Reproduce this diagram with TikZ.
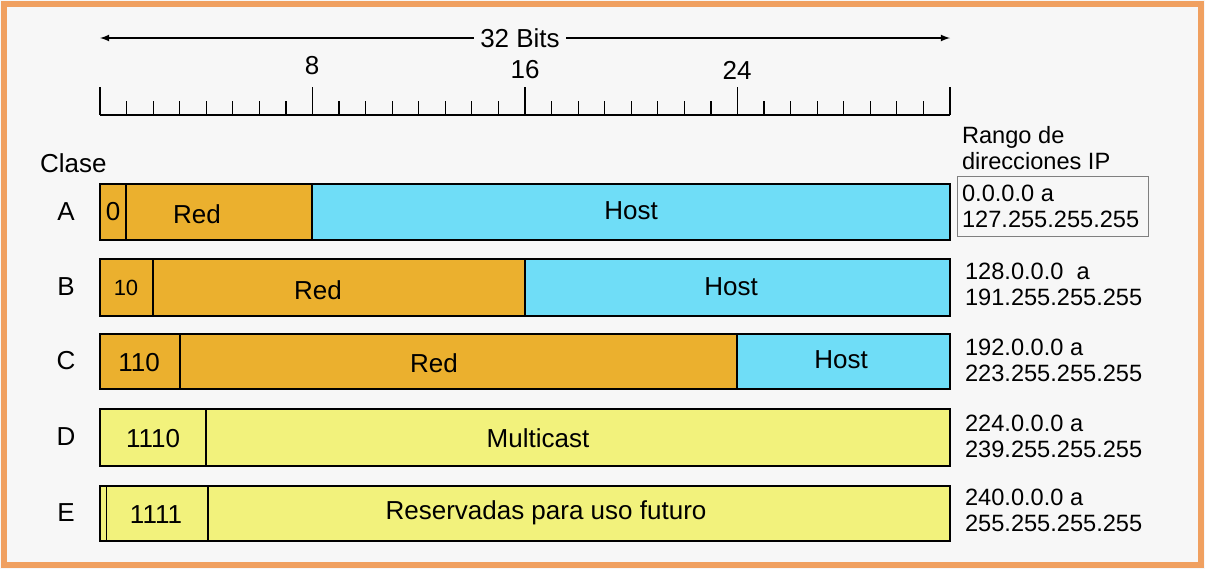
\documentclass[tikz,border=0pt]{standalone}
\usepackage{fontspec}
\setmainfont{Liberation Sans}
\begin{document}
\begin{tikzpicture}[x=0.5pt,y=-0.5pt,
  seg/.style={draw=black,line width=0.8pt},
  lbl/.style={font=\fontsize{13}{14}\selectfont},
  rng/.style={font=\fontsize{11.8}{13}\selectfont,align=left,anchor=west}]
\definecolor{bord}{HTML}{F0A060}
\definecolor{redc}{HTML}{EBB02E}
\definecolor{hostc}{HTML}{6FDDF7}
\definecolor{mc}{HTML}{F2F27C}
\useasboundingbox (0,0) rectangle (1205,569);
\fill[white!97!black] (0,0) rectangle (1205,569);
\draw[bord,line width=3pt] (4,4) rectangle (1201,565);
% ruler
\draw[line width=0.6pt] (100,115) -- (950,115);
\foreach \i in {0,...,32}{
  \pgfmathsetmacro{\xx}{100+\i*26.5625}
  \pgfmathtruncatemacro{\m}{mod(\i,8)}
  \ifnum\m=0 \draw[line width=0.8pt] (\xx,87) -- (\xx,115);
  \else \draw[line width=0.6pt] (\xx,101) -- (\xx,115); \fi}
\node[lbl] (b8) at (312,66) {8};
\node[lbl] (b16) at (525,70) {16};
\node[lbl] (b24) at (737,70) {24};
\node[lbl,fill=white!97!black,inner sep=3pt] (bits) at (520,38) {32 Bits};
\draw[-latex,line width=0.6pt] (bits.west) -- (100,38);
\draw[-latex,line width=0.6pt] (bits.east) -- (950,38);
\node[lbl,anchor=west] (clase) at (33,163) {Clase};
\node[rng] (rh) at (955,148) {Rango de\\direcciones IP};
% rows
\foreach \y/\c in {212/A,287/B,361/C,437/D,513/E}{\node[lbl] at (66,\y) {\c};}
% A
\fill[redc] (100,184) rectangle (312,240);
\fill[hostc] (312,184) rectangle (950,240);
\draw[seg] (100,184) rectangle (950,240) (126,184)--(126,240) (312,184)--(312,240);
\node[lbl] at (113,212) {0};
\node[lbl] at (197,214) {Red};
\node[lbl] at (631,211) {Host};
% B
\fill[redc] (100,259) rectangle (525,316);
\fill[hostc] (525,259) rectangle (950,316);
\draw[seg] (100,259) rectangle (950,316) (153,259)--(153,316) (525,259)--(525,316);
\node[lbl,font=\fontsize{11}{12}\selectfont] at (126,288) {10};
\node[lbl] at (318,290) {Red};
\node[lbl] at (731,287) {Host};
% C
\fill[redc] (100,334) rectangle (737,389);
\fill[hostc] (737,334) rectangle (950,389);
\draw[seg] (100,334) rectangle (950,389) (180,334)--(180,389) (737,334)--(737,389);
\node[lbl] at (139,363) {110};
\node[lbl] at (434,363) {Red};
\node[lbl] at (841,360) {Host};
% D
\fill[mc] (100,409) rectangle (950,466);
\draw[seg] (100,409) rectangle (950,466) (206,409)--(206,466);
\node[lbl] at (153,439) {1110};
\node[lbl] at (538,438) {Multicast};
% E
\fill[mc] (100,486) rectangle (950,541);
\draw[seg] (100,486) rectangle (950,541) (208,486)--(208,541);
\draw[line width=0.5pt] (106,486)--(106,541);
\node[lbl] at (156,515) {1111};
\node[lbl] at (546,513) {Reservadas para uso futuro};
% ranges
\draw[gray,line width=0.5pt] (957,176) rectangle (1148,236);
\node[rng] (ra) at (955,206) {0.0.0.0 a\\127.255.255.255};
\node[rng] (rb) at (958,284) {128.0.0.0~ a\\191.255.255.255};
\node[rng] (rc) at (958,360) {192.0.0.0 a\\223.255.255.255};
\node[rng] (rd) at (958,436) {224.0.0.0 a\\239.255.255.255};
\node[rng] (re) at (958,510) {240.0.0.0 a\\255.255.255.255};
\end{tikzpicture}
\end{document}
